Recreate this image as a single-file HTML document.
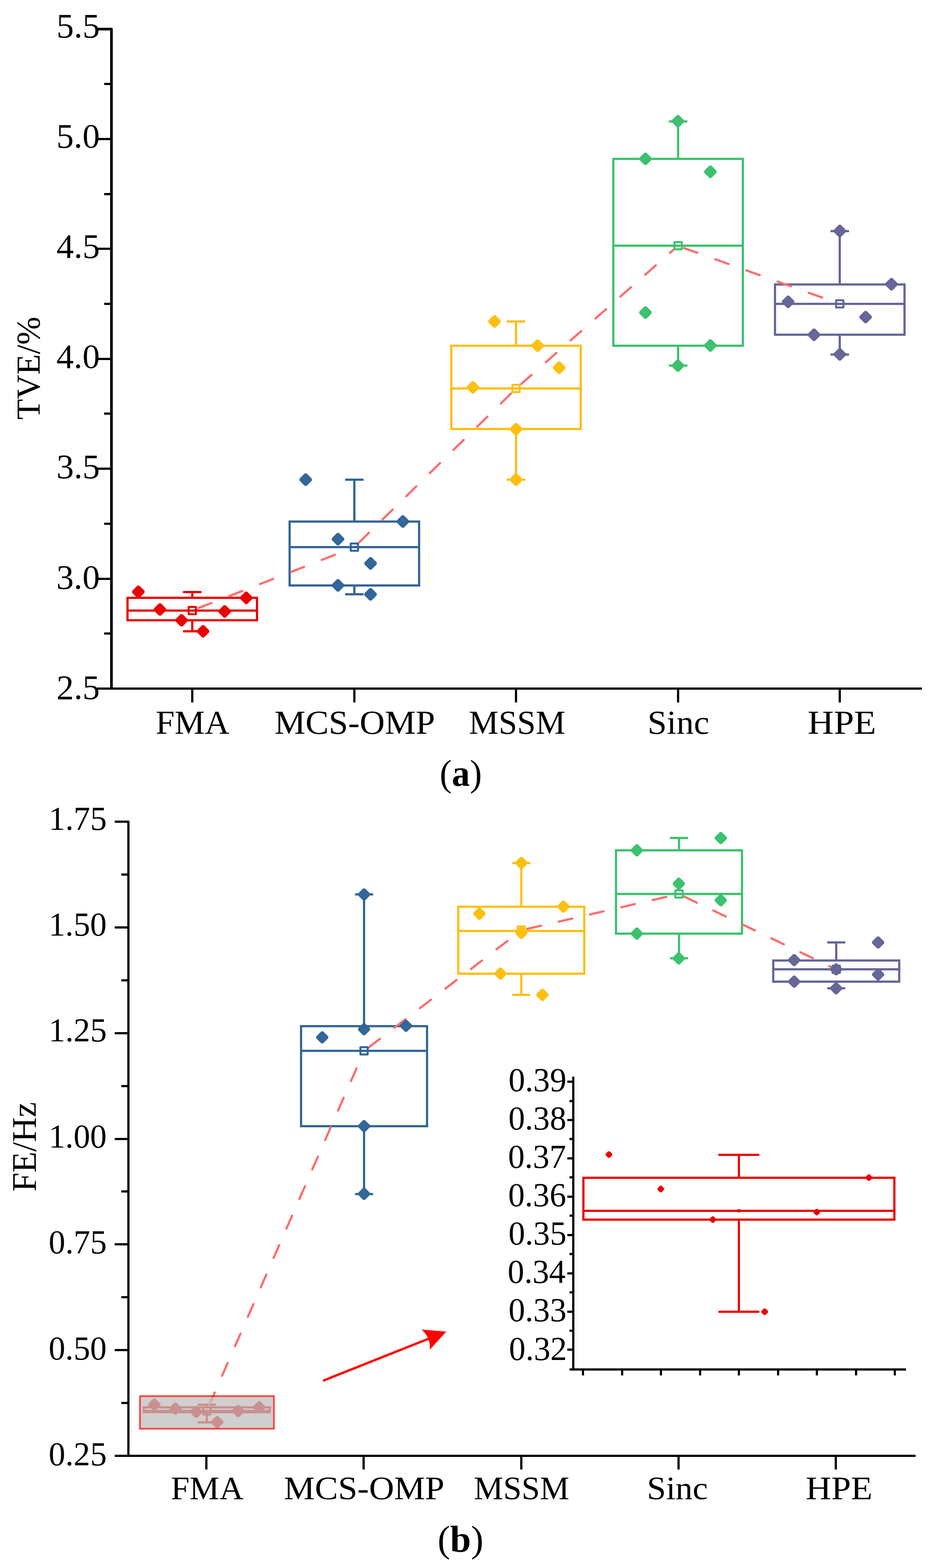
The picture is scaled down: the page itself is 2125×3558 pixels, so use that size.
<!DOCTYPE html>
<html lang="en">
<head>
<meta charset="utf-8">
<title>Box plots of TVE and FE for FMA, MCS-OMP, MSSM, Sinc and HPE</title>
<style>
html, body { margin: 0; padding: 0; background: #ffffff; }
body { width: 2125px; height: 3558px; overflow: hidden; }
svg { display: block; }
text { font-family: "Liberation Serif", "DejaVu Serif", serif; fill: #000000; font-kerning: none; }
</style>
</head>
<body>
<svg width="2125" height="3558" viewBox="0 0 2125 3558">
<rect x="0" y="0" width="2125" height="3558" fill="#ffffff"/>

<g id="chart-a">
<g stroke="#000" stroke-width="5" fill="none" stroke-linecap="butt">
<polyline points="221,66 253,66 253,1562.5" stroke-width="6" stroke-linejoin="round"/>
<line x1="221" y1="1562.5" x2="2093" y2="1562.5"/>
<line x1="221" y1="315.5" x2="253" y2="315.5"/>
<line x1="221" y1="564.5" x2="253" y2="564.5"/>
<line x1="221" y1="814.5" x2="253" y2="814.5"/>
<line x1="221" y1="1063.5" x2="253" y2="1063.5"/>
<line x1="221" y1="1313.5" x2="253" y2="1313.5"/>
<line x1="236.5" y1="190.5" x2="253" y2="190.5"/>
<line x1="236.5" y1="440.5" x2="253" y2="440.5"/>
<line x1="236.5" y1="689.5" x2="253" y2="689.5"/>
<line x1="236.5" y1="938.5" x2="253" y2="938.5"/>
<line x1="236.5" y1="1188.5" x2="253" y2="1188.5"/>
<line x1="236.5" y1="1437.5" x2="253" y2="1437.5"/>
<line x1="436.5" y1="1562.5" x2="436.5" y2="1594"/>
<line x1="804.5" y1="1562.5" x2="804.5" y2="1594"/>
<line x1="1171.5" y1="1562.5" x2="1171.5" y2="1594"/>
<line x1="1539.5" y1="1562.5" x2="1539.5" y2="1594"/>
<line x1="1906.5" y1="1562.5" x2="1906.5" y2="1594"/>
</g>
<text transform="translate(128.25 84.6) scale(0.78800 0.78300)" font-size="100">5.5</text>
<text transform="translate(128.06 334.8) scale(0.78800 0.78300)" font-size="100">5.0</text>
<text transform="translate(128.25 585) scale(0.78800 0.78300)" font-size="100">4.5</text>
<text transform="translate(128.06 835.2) scale(0.78800 0.78300)" font-size="100">4.0</text>
<text transform="translate(128.25 1085.4) scale(0.78800 0.78300)" font-size="100">3.5</text>
<text transform="translate(128.06 1335.6) scale(0.78800 0.78300)" font-size="100">3.0</text>
<text transform="translate(128.25 1585.8) scale(0.78800 0.78300)" font-size="100">2.5</text>
<text transform="translate(353.48 1664.8) scale(0.77140 0.76200)" font-size="100">FMA</text>
<text transform="translate(623.33 1664.8) scale(0.79032 0.76200)" font-size="100">MCS-OMP</text>
<text transform="translate(1064.62 1664.8) scale(0.75767 0.76200)" font-size="100">MSSM</text>
<text transform="translate(1469.98 1664.8) scale(0.78869 0.76200)" font-size="100">Sinc</text>
<text transform="translate(1833.54 1664.8) scale(0.82320 0.76200)" font-size="100">HPE</text>
<text transform="translate(90 952.24) rotate(-90) scale(0.76539 0.76539)" font-size="100">TVE/%</text>
<text transform="translate(998.31 1783.1) scale(0.82037 0.84700)" font-size="100">(<tspan font-weight="bold">a</tspan>)</text>
<g stroke="#eb0000" stroke-width="5" fill="none" stroke-linecap="butt">
<line x1="436.5" y1="1343.5" x2="436.5" y2="1356.5"/>
<line x1="436.5" y1="1407.5" x2="436.5" y2="1432.5"/>
<line x1="415.5" y1="1343.5" x2="457.5" y2="1343.5"/>
<line x1="415.5" y1="1432.5" x2="457.5" y2="1432.5"/>
<rect x="289.5" y="1356.5" width="294" height="51"/>
<line x1="289.5" y1="1385.5" x2="583.5" y2="1385.5"/>
</g>
<g stroke="#336699" stroke-width="5" fill="none" stroke-linecap="butt">
<line x1="804.5" y1="1088.5" x2="804.5" y2="1183.5"/>
<line x1="804.5" y1="1328.5" x2="804.5" y2="1348.5"/>
<line x1="783.5" y1="1088.5" x2="825.5" y2="1088.5"/>
<line x1="783.5" y1="1348.5" x2="825.5" y2="1348.5"/>
<rect x="657.5" y="1183.5" width="294" height="145"/>
<line x1="657.5" y1="1241.5" x2="951.5" y2="1241.5"/>
</g>
<g stroke="#fdc010" stroke-width="5" fill="none" stroke-linecap="butt">
<line x1="1171.5" y1="729.5" x2="1171.5" y2="784.5"/>
<line x1="1171.5" y1="973.5" x2="1171.5" y2="1088.5"/>
<line x1="1150.5" y1="729.5" x2="1192.5" y2="729.5"/>
<line x1="1150.5" y1="1088.5" x2="1192.5" y2="1088.5"/>
<rect x="1024.5" y="784.5" width="294" height="189"/>
<line x1="1024.5" y1="881.5" x2="1318.5" y2="881.5"/>
</g>
<g stroke="#3cc26e" stroke-width="5" fill="none" stroke-linecap="butt">
<line x1="1539.5" y1="275.5" x2="1539.5" y2="360.5"/>
<line x1="1539.5" y1="784.5" x2="1539.5" y2="829.5"/>
<line x1="1518.5" y1="275.5" x2="1560.5" y2="275.5"/>
<line x1="1518.5" y1="829.5" x2="1560.5" y2="829.5"/>
<rect x="1392.5" y="360.5" width="294" height="424"/>
<line x1="1392.5" y1="557.5" x2="1686.5" y2="557.5"/>
</g>
<g stroke="#666699" stroke-width="5" fill="none" stroke-linecap="butt">
<line x1="1906.5" y1="524.5" x2="1906.5" y2="645.5"/>
<line x1="1906.5" y1="759.5" x2="1906.5" y2="804.5"/>
<line x1="1885.5" y1="524.5" x2="1927.5" y2="524.5"/>
<line x1="1885.5" y1="804.5" x2="1927.5" y2="804.5"/>
<rect x="1759.5" y="645.5" width="294" height="114"/>
<line x1="1759.5" y1="689.5" x2="2053.5" y2="689.5"/>
</g>
<clipPath id="meanclip1"><path clip-rule="evenodd" d="M0 0H2125V3558H0zM426 1375h21v21h-21zM794 1231h21v21h-21zM1161 871h21v21h-21zM1529 547h21v21h-21zM1896 679h21v21h-21z"/></clipPath>
<g clip-path="url(#meanclip1)" fill="none" stroke="#fc6e6d" stroke-width="5.0" stroke-linecap="round" stroke-dasharray="32 43.2" stroke-dashoffset="-14.8">
<line x1="436.6" y1="1385.3" x2="804.3" y2="1241.7"/>
<line x1="804.3" y1="1241.7" x2="1171.6" y2="881.6"/>
<line x1="1171.6" y1="881.6" x2="1539.1" y2="557.9"/>
<line x1="1539.1" y1="557.9" x2="1906.6" y2="689.5"/>
</g>
<rect x="428.25" y="1377.25" width="16.5" height="16.5" fill="none" stroke="#eb0000" stroke-width="4.5" stroke-linejoin="round"/>
<polygon points="312,1328.7 316.2,1328.7 328.2,1340.7 328.2,1344.9 316.2,1356.9 312,1356.9 300,1344.9 300,1340.7" fill="#eb0000"/>
<polygon points="361,1368.9 365.2,1368.9 377.2,1380.9 377.2,1385.1 365.2,1397.1 361,1397.1 349,1385.1 349,1380.9" fill="#eb0000"/>
<polygon points="410,1393.4 414.2,1393.4 426.2,1405.4 426.2,1409.6 414.2,1421.6 410,1421.6 398,1409.6 398,1405.4" fill="#eb0000"/>
<polygon points="459,1418.4 463.2,1418.4 475.2,1430.4 475.2,1434.6 463.2,1446.6 459,1446.6 447,1434.6 447,1430.4" fill="#eb0000"/>
<polygon points="508,1373.2 512.2,1373.2 524.2,1385.2 524.2,1389.4 512.2,1401.4 508,1401.4 496,1389.4 496,1385.2" fill="#eb0000"/>
<polygon points="557,1342.5 561.2,1342.5 573.2,1354.5 573.2,1358.7 561.2,1370.7 557,1370.7 545,1358.7 545,1354.5" fill="#eb0000"/>
<rect x="796.25" y="1233.25" width="16.5" height="16.5" fill="none" stroke="#336699" stroke-width="4.5" stroke-linejoin="round"/>
<polygon points="691.9,1074.3 696.1,1074.3 708.1,1086.3 708.1,1090.5 696.1,1102.5 691.9,1102.5 679.9,1090.5 679.9,1086.3" fill="#336699"/>
<polygon points="765.2,1209.2 769.4,1209.2 781.4,1221.2 781.4,1225.4 769.4,1237.4 765.2,1237.4 753.2,1225.4 753.2,1221.2" fill="#336699"/>
<polygon points="765.2,1314.2 769.4,1314.2 781.4,1326.2 781.4,1330.4 769.4,1342.4 765.2,1342.4 753.2,1330.4 753.2,1326.2" fill="#336699"/>
<polygon points="839.2,1264.2 843.4,1264.2 855.4,1276.2 855.4,1280.4 843.4,1292.4 839.2,1292.4 827.2,1280.4 827.2,1276.2" fill="#336699"/>
<polygon points="839.2,1334.5 843.4,1334.5 855.4,1346.5 855.4,1350.7 843.4,1362.7 839.2,1362.7 827.2,1350.7 827.2,1346.5" fill="#336699"/>
<polygon points="912.5,1169.3 916.7,1169.3 928.7,1181.3 928.7,1185.5 916.7,1197.5 912.5,1197.5 900.5,1185.5 900.5,1181.3" fill="#336699"/>
<rect x="1163.25" y="873.25" width="16.5" height="16.5" fill="none" stroke="#fdc010" stroke-width="4.5" stroke-linejoin="round"/>
<polygon points="1120.6,715.3 1124.8,715.3 1136.8,727.3 1136.8,731.5 1124.8,743.5 1120.6,743.5 1108.6,731.5 1108.6,727.3" fill="#fdc010"/>
<polygon points="1218.4,770.3 1222.6,770.3 1234.6,782.3 1234.6,786.5 1222.6,798.5 1218.4,798.5 1206.4,786.5 1206.4,782.3" fill="#fdc010"/>
<polygon points="1267.3,820.2 1271.5,820.2 1283.5,832.2 1283.5,836.4 1271.5,848.4 1267.3,848.4 1255.3,836.4 1255.3,832.2" fill="#fdc010"/>
<polygon points="1071.7,864.9 1075.9,864.9 1087.9,876.9 1087.9,881.1 1075.9,893.1 1071.7,893.1 1059.7,881.1 1059.7,876.9" fill="#fdc010"/>
<polygon points="1169.5,959.7 1173.7,959.7 1185.7,971.7 1185.7,975.9 1173.7,987.9 1169.5,987.9 1157.5,975.9 1157.5,971.7" fill="#fdc010"/>
<polygon points="1169.5,1074.2 1173.7,1074.2 1185.7,1086.2 1185.7,1090.4 1173.7,1102.4 1169.5,1102.4 1157.5,1090.4 1157.5,1086.2" fill="#fdc010"/>
<rect x="1531.25" y="549.25" width="16.5" height="16.5" fill="none" stroke="#3cc26e" stroke-width="4.5" stroke-linejoin="round"/>
<polygon points="1537,260.9 1541.2,260.9 1553.2,272.9 1553.2,277.1 1541.2,289.1 1537,289.1 1525,277.1 1525,272.9" fill="#3cc26e"/>
<polygon points="1463.3,346.4 1467.5,346.4 1479.5,358.4 1479.5,362.6 1467.5,374.6 1463.3,374.6 1451.3,362.6 1451.3,358.4" fill="#3cc26e"/>
<polygon points="1610.7,375.8 1614.9,375.8 1626.9,387.8 1626.9,392 1614.9,404 1610.7,404 1598.7,392 1598.7,387.8" fill="#3cc26e"/>
<polygon points="1463.3,695.3 1467.5,695.3 1479.5,707.3 1479.5,711.5 1467.5,723.5 1463.3,723.5 1451.3,711.5 1451.3,707.3" fill="#3cc26e"/>
<polygon points="1610.7,769.9 1614.9,769.9 1626.9,781.9 1626.9,786.1 1614.9,798.1 1610.7,798.1 1598.7,786.1 1598.7,781.9" fill="#3cc26e"/>
<polygon points="1537,815.4 1541.2,815.4 1553.2,827.4 1553.2,831.6 1541.2,843.6 1537,843.6 1525,831.6 1525,827.4" fill="#3cc26e"/>
<rect x="1898.25" y="681.25" width="16.5" height="16.5" fill="none" stroke="#666699" stroke-width="4.5" stroke-linejoin="round"/>
<polygon points="1904.5,510.1 1908.7,510.1 1920.7,522.1 1920.7,526.3 1908.7,538.3 1904.5,538.3 1892.5,526.3 1892.5,522.1" fill="#666699"/>
<polygon points="2021.8,630.8 2026,630.8 2038,642.8 2038,647 2026,659 2021.8,659 2009.8,647 2009.8,642.8" fill="#666699"/>
<polygon points="1787.2,670.8 1791.4,670.8 1803.4,682.8 1803.4,687 1791.4,699 1787.2,699 1775.2,687 1775.2,682.8" fill="#666699"/>
<polygon points="1963.1,705.4 1967.3,705.4 1979.3,717.4 1979.3,721.6 1967.3,733.6 1963.1,733.6 1951.1,721.6 1951.1,717.4" fill="#666699"/>
<polygon points="1845.9,745.5 1850.1,745.5 1862.1,757.5 1862.1,761.7 1850.1,773.7 1845.9,773.7 1833.9,761.7 1833.9,757.5" fill="#666699"/>
<polygon points="1904.5,790 1908.7,790 1920.7,802 1920.7,806.2 1908.7,818.2 1904.5,818.2 1892.5,806.2 1892.5,802" fill="#666699"/>
</g>
<g id="chart-b">
<g stroke="#000" stroke-width="5" fill="none" stroke-linecap="butt">
<polyline points="260.5,1864.5 291.5,1864.5 291.5,3303.5" stroke-width="5" stroke-linejoin="round"/>
<line x1="260.5" y1="3303.5" x2="2078.7" y2="3303.5"/>
<line x1="260.5" y1="2104.5" x2="291.5" y2="2104.5"/>
<line x1="260.5" y1="2344.5" x2="291.5" y2="2344.5"/>
<line x1="260.5" y1="2584.5" x2="291.5" y2="2584.5"/>
<line x1="260.5" y1="2823.5" x2="291.5" y2="2823.5"/>
<line x1="260.5" y1="3063.5" x2="291.5" y2="3063.5"/>
<line x1="275.5" y1="1984.5" x2="291.5" y2="1984.5"/>
<line x1="275.5" y1="2224.5" x2="291.5" y2="2224.5"/>
<line x1="275.5" y1="2464.5" x2="291.5" y2="2464.5"/>
<line x1="275.5" y1="2703.5" x2="291.5" y2="2703.5"/>
<line x1="275.5" y1="2943.5" x2="291.5" y2="2943.5"/>
<line x1="275.5" y1="3183.5" x2="291.5" y2="3183.5"/>
<line x1="468.5" y1="3303.5" x2="468.5" y2="3334.5"/>
<line x1="825.5" y1="3303.5" x2="825.5" y2="3334.5"/>
<line x1="1183.5" y1="3303.5" x2="1183.5" y2="3334.5"/>
<line x1="1540.5" y1="3303.5" x2="1540.5" y2="3334.5"/>
<line x1="1897.5" y1="3303.5" x2="1897.5" y2="3334.5"/>
</g>
<text transform="translate(110.57 1882.5) scale(0.75400 0.75300)" font-size="100">1.75</text>
<text transform="translate(110.38 2122.9) scale(0.75400 0.75300)" font-size="100">1.50</text>
<text transform="translate(110.57 2363.3) scale(0.75400 0.75300)" font-size="100">1.25</text>
<text transform="translate(110.38 2603.7) scale(0.75400 0.75300)" font-size="100">1.00</text>
<text transform="translate(110.57 2844.1) scale(0.75400 0.75300)" font-size="100">0.75</text>
<text transform="translate(110.38 3084.5) scale(0.75400 0.75300)" font-size="100">0.50</text>
<text transform="translate(110.57 3324.9) scale(0.75400 0.75300)" font-size="100">0.25</text>
<text transform="translate(387.91 3402.4) scale(0.76108 0.74300)" font-size="100">FMA</text>
<text transform="translate(644.43 3402.4) scale(0.79032 0.74300)" font-size="100">MCS-OMP</text>
<text transform="translate(1075.74 3402.4) scale(0.74991 0.74300)" font-size="100">MSSM</text>
<text transform="translate(1468.65 3402.4) scale(0.77798 0.74300)" font-size="100">Sinc</text>
<text transform="translate(1829.19 3402.4) scale(0.80331 0.74300)" font-size="100">HPE</text>
<text transform="translate(80.9 2703.94) rotate(-90) scale(0.77808 0.77808)" font-size="100">FE/Hz</text>
<text transform="translate(993.38 3521.1) scale(0.85275 0.85000)" font-size="100">(<tspan font-weight="bold">b</tspan>)</text>
<g stroke="#eb0000" stroke-width="5" fill="none" stroke-linecap="butt">
<line x1="469.5" y1="3187.5" x2="469.5" y2="3193.5"/>
<line x1="469.5" y1="3204.5" x2="469.5" y2="3227.5"/>
<line x1="449" y1="3187.5" x2="490" y2="3187.5"/>
<line x1="449" y1="3227.5" x2="490" y2="3227.5"/>
<rect x="326.5" y="3193.5" width="286" height="11"/>
<line x1="326.5" y1="3201.5" x2="612.5" y2="3201.5"/>
</g>
<g stroke="#336699" stroke-width="5" fill="none" stroke-linecap="butt">
<line x1="826.5" y1="2029.5" x2="826.5" y2="2328.5"/>
<line x1="826.5" y1="2555.5" x2="826.5" y2="2709.5"/>
<line x1="806" y1="2029.5" x2="847" y2="2029.5"/>
<line x1="806" y1="2709.5" x2="847" y2="2709.5"/>
<rect x="683.5" y="2328.5" width="286" height="227"/>
<line x1="683.5" y1="2384.5" x2="969.5" y2="2384.5"/>
</g>
<g stroke="#fdc010" stroke-width="5" fill="none" stroke-linecap="butt">
<line x1="1183.5" y1="1958.5" x2="1183.5" y2="2057.5"/>
<line x1="1183.5" y1="2209.5" x2="1183.5" y2="2257.5"/>
<line x1="1163" y1="1958.5" x2="1204" y2="1958.5"/>
<line x1="1163" y1="2257.5" x2="1204" y2="2257.5"/>
<rect x="1040.5" y="2057.5" width="286" height="152"/>
<line x1="1040.5" y1="2112.5" x2="1326.5" y2="2112.5"/>
</g>
<g stroke="#3cc26e" stroke-width="5" fill="none" stroke-linecap="butt">
<line x1="1541.5" y1="1901.5" x2="1541.5" y2="1929.5"/>
<line x1="1541.5" y1="2118.5" x2="1541.5" y2="2174.5"/>
<line x1="1521" y1="1901.5" x2="1562" y2="1901.5"/>
<line x1="1521" y1="2174.5" x2="1562" y2="2174.5"/>
<rect x="1398.5" y="1929.5" width="286" height="189"/>
<line x1="1398.5" y1="2028.5" x2="1684.5" y2="2028.5"/>
</g>
<g stroke="#666699" stroke-width="5" fill="none" stroke-linecap="butt">
<line x1="1898.5" y1="2138.5" x2="1898.5" y2="2179.5"/>
<line x1="1898.5" y1="2227.5" x2="1898.5" y2="2242.5"/>
<line x1="1878" y1="2138.5" x2="1919" y2="2138.5"/>
<line x1="1878" y1="2242.5" x2="1919" y2="2242.5"/>
<rect x="1755.5" y="2179.5" width="286" height="48"/>
<line x1="1755.5" y1="2199.5" x2="2041.5" y2="2199.5"/>
</g>
<clipPath id="meanclip2"><path clip-rule="evenodd" d="M0 0H2125V3558H0zM459 3191h21v21h-21zM816 2374h21v21h-21zM1173 2100h21v21h-21zM1531 2018h21v21h-21zM1888 2189h21v21h-21z"/></clipPath>
<g clip-path="url(#meanclip2)" fill="none" stroke="#fc6e6d" stroke-width="5.0" stroke-linecap="round" stroke-dasharray="31.5 41.5" stroke-dashoffset="-13.8">
<line x1="469.4" y1="3201.3" x2="826.6" y2="2384.9"/>
<line x1="826.6" y1="2384.9" x2="1183.8" y2="2110.8"/>
<line x1="1183.8" y1="2110.8" x2="1541.1" y2="2028.6"/>
<line x1="1541.1" y1="2028.6" x2="1898.3" y2="2199.6"/>
</g>
<rect x="461.25" y="3193.25" width="16.5" height="16.5" fill="none" stroke="#eb0000" stroke-width="4.5" stroke-linejoin="round"/>
<polygon points="348.3,3173.6 352.5,3173.6 364.1,3185.2 364.1,3189.4 352.5,3201 348.3,3201 336.7,3189.4 336.7,3185.2" fill="#eb0000"/>
<polygon points="396,3182.5 400.2,3182.5 411.8,3194.1 411.8,3198.3 400.2,3209.9 396,3209.9 384.4,3198.3 384.4,3194.1" fill="#eb0000"/>
<polygon points="443.5,3190.1 447.7,3190.1 459.3,3201.7 459.3,3205.9 447.7,3217.5 443.5,3217.5 431.9,3205.9 431.9,3201.7" fill="#eb0000"/>
<polygon points="491.1,3213.2 495.3,3213.2 506.9,3224.8 506.9,3229 495.3,3240.6 491.1,3240.6 479.5,3229 479.5,3224.8" fill="#eb0000"/>
<polygon points="538.6,3188.2 542.8,3188.2 554.4,3199.8 554.4,3204 542.8,3215.6 538.6,3215.6 527,3204 527,3199.8" fill="#eb0000"/>
<polygon points="586.3,3179.6 590.5,3179.6 602.1,3191.2 602.1,3195.4 590.5,3207 586.3,3207 574.7,3195.4 574.7,3191.2" fill="#eb0000"/>
<rect x="818.25" y="2376.25" width="16.5" height="16.5" fill="none" stroke="#336699" stroke-width="4.5" stroke-linejoin="round"/>
<polygon points="824.5,2016 828.7,2016 840.3,2027.6 840.3,2031.8 828.7,2043.4 824.5,2043.4 812.9,2031.8 812.9,2027.6" fill="#336699"/>
<polygon points="729.4,2340.2 733.6,2340.2 745.2,2351.8 745.2,2356 733.6,2367.6 729.4,2367.6 717.8,2356 717.8,2351.8" fill="#336699"/>
<polygon points="824.5,2321.8 828.7,2321.8 840.3,2333.4 840.3,2337.6 828.7,2349.2 824.5,2349.2 812.9,2337.6 812.9,2333.4" fill="#336699"/>
<polygon points="919.6,2313.9 923.8,2313.9 935.4,2325.5 935.4,2329.7 923.8,2341.3 919.6,2341.3 908,2329.7 908,2325.5" fill="#336699"/>
<polygon points="824.5,2541.7 828.7,2541.7 840.3,2553.3 840.3,2557.5 828.7,2569.1 824.5,2569.1 812.9,2557.5 812.9,2553.3" fill="#336699"/>
<polygon points="824.5,2695.3 828.7,2695.3 840.3,2706.9 840.3,2711.1 828.7,2722.7 824.5,2722.7 812.9,2711.1 812.9,2706.9" fill="#336699"/>
<rect x="1175.25" y="2102.25" width="16.5" height="16.5" fill="none" stroke="#fdc010" stroke-width="4.5" stroke-linejoin="round"/>
<polygon points="1181.7,1944.5 1185.9,1944.5 1197.5,1956.1 1197.5,1960.3 1185.9,1971.9 1181.7,1971.9 1170.1,1960.3 1170.1,1956.1" fill="#fdc010"/>
<polygon points="1277,2043.5 1281.2,2043.5 1292.8,2055.1 1292.8,2059.3 1281.2,2070.9 1277,2070.9 1265.4,2059.3 1265.4,2055.1" fill="#fdc010"/>
<polygon points="1086.4,2059.5 1090.6,2059.5 1102.2,2071.1 1102.2,2075.3 1090.6,2086.9 1086.4,2086.9 1074.8,2075.3 1074.8,2071.1" fill="#fdc010"/>
<polygon points="1181.7,2103.1 1185.9,2103.1 1197.5,2114.7 1197.5,2118.9 1185.9,2130.5 1181.7,2130.5 1170.1,2118.9 1170.1,2114.7" fill="#fdc010"/>
<polygon points="1134.1,2195.6 1138.3,2195.6 1149.9,2207.2 1149.9,2211.4 1138.3,2223 1134.1,2223 1122.5,2211.4 1122.5,2207.2" fill="#fdc010"/>
<polygon points="1229.3,2243.8 1233.5,2243.8 1245.1,2255.4 1245.1,2259.6 1233.5,2271.2 1229.3,2271.2 1217.7,2259.6 1217.7,2255.4" fill="#fdc010"/>
<rect x="1533.25" y="2020.25" width="16.5" height="16.5" fill="none" stroke="#3cc26e" stroke-width="4.5" stroke-linejoin="round"/>
<polygon points="1634.3,1887.9 1638.5,1887.9 1650.1,1899.5 1650.1,1903.7 1638.5,1915.3 1634.3,1915.3 1622.7,1903.7 1622.7,1899.5" fill="#3cc26e"/>
<polygon points="1443.7,1915.8 1447.9,1915.8 1459.5,1927.4 1459.5,1931.6 1447.9,1943.2 1443.7,1943.2 1432.1,1931.6 1432.1,1927.4" fill="#3cc26e"/>
<polygon points="1539,1991.5 1543.2,1991.5 1554.8,2003.1 1554.8,2007.3 1543.2,2018.9 1539,2018.9 1527.4,2007.3 1527.4,2003.1" fill="#3cc26e"/>
<polygon points="1634.3,2029.1 1638.5,2029.1 1650.1,2040.7 1650.1,2044.9 1638.5,2056.5 1634.3,2056.5 1622.7,2044.9 1622.7,2040.7" fill="#3cc26e"/>
<polygon points="1443.7,2104.8 1447.9,2104.8 1459.5,2116.4 1459.5,2120.6 1447.9,2132.2 1443.7,2132.2 1432.1,2120.6 1432.1,2116.4" fill="#3cc26e"/>
<polygon points="1539,2161 1543.2,2161 1554.8,2172.6 1554.8,2176.8 1543.2,2188.4 1539,2188.4 1527.4,2176.8 1527.4,2172.6" fill="#3cc26e"/>
<rect x="1890.25" y="2191.25" width="16.5" height="16.5" fill="none" stroke="#666699" stroke-width="4.5" stroke-linejoin="round"/>
<polygon points="1991.5,2124.9 1995.7,2124.9 2007.3,2136.5 2007.3,2140.7 1995.7,2152.3 1991.5,2152.3 1979.9,2140.7 1979.9,2136.5" fill="#666699"/>
<polygon points="1800.9,2164.9 1805.1,2164.9 1816.7,2176.5 1816.7,2180.7 1805.1,2192.3 1800.9,2192.3 1789.3,2180.7 1789.3,2176.5" fill="#666699"/>
<polygon points="1896.2,2185.9 1900.4,2185.9 1912,2197.5 1912,2201.7 1900.4,2213.3 1896.2,2213.3 1884.6,2201.7 1884.6,2197.5" fill="#666699"/>
<polygon points="1991.5,2197.7 1995.7,2197.7 2007.3,2209.3 2007.3,2213.5 1995.7,2225.1 1991.5,2225.1 1979.9,2213.5 1979.9,2209.3" fill="#666699"/>
<polygon points="1800.9,2213.8 1805.1,2213.8 1816.7,2225.4 1816.7,2229.6 1805.1,2241.2 1800.9,2241.2 1789.3,2229.6 1789.3,2225.4" fill="#666699"/>
<polygon points="1896.2,2228.9 1900.4,2228.9 1912,2240.5 1912,2244.7 1900.4,2256.3 1896.2,2256.3 1884.6,2244.7 1884.6,2240.5" fill="#666699"/>
<rect x="317.9" y="3168.1" width="303.9" height="73.8" fill="#c0c0c0" stroke="#ff0000" stroke-width="3.8" opacity="0.75"/>
<line x1="735.2" y1="3132.3" x2="985" y2="3033" stroke="#ff0000" stroke-width="5.2" stroke-linecap="round"/>
<path d="M1013.2 3021.4 L957 3017 Q978.5 3036 975.6 3062.9 Z" fill="#ff0000"/>
</g>
<g id="inset">
<g stroke="#000" stroke-width="5" fill="none" stroke-linecap="butt">
<line x1="1301.5" y1="2443" x2="1301.5" y2="3110.0"/>
<line x1="1293" y1="3107.5" x2="2057" y2="3107.5"/>
<line x1="1288" y1="2454.5" x2="1301.5" y2="2454.5"/>
<line x1="1293" y1="2498.5" x2="1301.5" y2="2498.5"/>
<line x1="1288" y1="2541.5" x2="1301.5" y2="2541.5"/>
<line x1="1293" y1="2584.5" x2="1301.5" y2="2584.5"/>
<line x1="1288" y1="2628.5" x2="1301.5" y2="2628.5"/>
<line x1="1293" y1="2671.5" x2="1301.5" y2="2671.5"/>
<line x1="1288" y1="2715.5" x2="1301.5" y2="2715.5"/>
<line x1="1293" y1="2758.5" x2="1301.5" y2="2758.5"/>
<line x1="1288" y1="2802.5" x2="1301.5" y2="2802.5"/>
<line x1="1293" y1="2845.5" x2="1301.5" y2="2845.5"/>
<line x1="1288" y1="2889.5" x2="1301.5" y2="2889.5"/>
<line x1="1293" y1="2932.5" x2="1301.5" y2="2932.5"/>
<line x1="1288" y1="2976.5" x2="1301.5" y2="2976.5"/>
<line x1="1293" y1="3019.5" x2="1301.5" y2="3019.5"/>
<line x1="1288" y1="3062.5" x2="1301.5" y2="3062.5"/>
<line x1="1323.5" y1="3107.5" x2="1323.5" y2="3121"/>
<line x1="1412.5" y1="3107.5" x2="1412.5" y2="3121"/>
<line x1="1500.5" y1="3107.5" x2="1500.5" y2="3121"/>
<line x1="1589.5" y1="3107.5" x2="1589.5" y2="3121"/>
<line x1="1677.5" y1="3107.5" x2="1677.5" y2="3121"/>
<line x1="1766.5" y1="3107.5" x2="1766.5" y2="3121"/>
<line x1="1854.5" y1="3107.5" x2="1854.5" y2="3121"/>
<line x1="1943.5" y1="3107.5" x2="1943.5" y2="3121"/>
<line x1="2031.5" y1="3107.5" x2="2031.5" y2="3121"/>
</g>
<text transform="translate(1154.41 2475.5) scale(0.75200 0.75300)" font-size="100">0.39</text>
<text transform="translate(1154.22 2562.66) scale(0.75200 0.75300)" font-size="100">0.38</text>
<text transform="translate(1153.47 2649.82) scale(0.75200 0.75300)" font-size="100">0.37</text>
<text transform="translate(1153.66 2736.98) scale(0.75200 0.75300)" font-size="100">0.36</text>
<text transform="translate(1154.41 2824.14) scale(0.75200 0.75300)" font-size="100">0.35</text>
<text transform="translate(1152.53 2911.3) scale(0.75200 0.75300)" font-size="100">0.34</text>
<text transform="translate(1154.41 2998.46) scale(0.75200 0.75300)" font-size="100">0.33</text>
<text transform="translate(1155.54 3085.62) scale(0.75200 0.75300)" font-size="100">0.32</text>
<g stroke="#eb0000" stroke-width="5.0" fill="none" stroke-linecap="butt">
<line x1="1677.5" y1="2620.5" x2="1677.5" y2="2672.5"/>
<line x1="1677.5" y1="2767.5" x2="1677.5" y2="2976.5"/>
<line x1="1631" y1="2620.5" x2="1724" y2="2620.5"/>
<line x1="1631" y1="2976.5" x2="1724" y2="2976.5"/>
<rect x="1324.5" y="2672.5" width="706" height="95"/>
<line x1="1324.5" y1="2747.5" x2="2030.5" y2="2747.5"/>
</g>
<polygon points="1380.7,2612.4 1384.3,2612.4 1389.9,2618 1389.9,2621.6 1384.3,2627.2 1380.7,2627.2 1375.1,2621.6 1375.1,2618" fill="#eb0000"/>
<polygon points="1498.4,2690.6 1502,2690.6 1507.6,2696.2 1507.6,2699.8 1502,2705.4 1498.4,2705.4 1492.8,2699.8 1492.8,2696.2" fill="#eb0000"/>
<polygon points="1616.6,2760 1620.2,2760 1625.8,2765.6 1625.8,2769.2 1620.2,2774.8 1616.6,2774.8 1611,2769.2 1611,2765.6" fill="#eb0000"/>
<polygon points="1734.3,2969.1 1737.9,2969.1 1743.5,2974.7 1743.5,2978.3 1737.9,2983.9 1734.3,2983.9 1728.7,2978.3 1728.7,2974.7" fill="#eb0000"/>
<polygon points="1852.5,2742.9 1856.1,2742.9 1861.7,2748.5 1861.7,2752.1 1856.1,2757.7 1852.5,2757.7 1846.9,2752.1 1846.9,2748.5" fill="#eb0000"/>
<polygon points="1970.8,2664.7 1974.4,2664.7 1980,2670.3 1980,2673.9 1974.4,2679.5 1970.8,2679.5 1965.2,2673.9 1965.2,2670.3" fill="#eb0000"/>
<rect x="1674" y="2744" width="7" height="7" fill="#eb0000"/>
</g>
</svg>
</body>
</html>
